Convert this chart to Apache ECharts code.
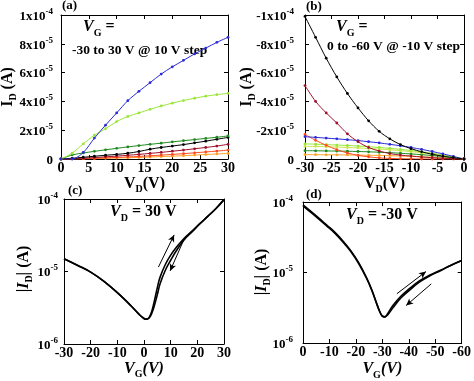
<!DOCTYPE html>
<html><head><meta charset="utf-8">
<script src="https://cdn.jsdelivr.net/npm/echarts@6/dist/echarts.min.js"></script>
<style>html,body{margin:0;padding:0;background:#fff}#c{width:474px;height:381px}</style>
</head><body><div id="c"></div>
<script>
// ---------- DATA ----------
// Panel (a): output curves, V_D in volts, I_D in units of 1e-5 A
const vdA = [0,2,4,6,8,10,12,14,16,18,20,22,24,26,28,30];
const aBlue   = [0,0,0.45,1.45,2.35,3.2,4.05,4.7,5.3,5.9,6.4,6.85,7.3,7.7,8.1,8.45];
const aLime   = [0,0.4,1.05,1.65,2.1,2.6,2.95,3.2,3.45,3.68,3.88,4.06,4.22,4.36,4.47,4.56];
const aGreen  = [0,0.28,0.42,0.53,0.64,0.74,0.84,0.93,1.02,1.1,1.19,1.27,1.35,1.43,1.51,1.6];
const aBlack  = [0,0.05,0.12,0.19,0.26,0.32,0.4,0.52,0.68,0.8,0.9,1.0,1.12,1.24,1.37,1.5];
const aDkRed  = [0,0.02,0.06,0.1,0.15,0.2,0.26,0.32,0.39,0.46,0.54,0.62,0.71,0.8,0.9,1.02];
const aRed    = [0,0.01,0.03,0.05,0.08,0.11,0.14,0.18,0.22,0.27,0.32,0.37,0.43,0.49,0.55,0.62];
const aOrange = [0,0.01,0.02,0.03,0.05,0.07,0.09,0.11,0.14,0.17,0.2,0.23,0.27,0.31,0.35,0.39];

// Panel (b): output curves, V_D in volts, I_D in units of 1e-5 A
const vdB = [-30,-28,-26,-24,-22,-20,-18,-16,-14,-12,-10,-8,-6,-4,-2,0];
const bBlack  = [-9.9,-8.45,-7.0,-5.7,-4.55,-3.55,-2.65,-1.92,-1.4,-1.0,-0.72,-0.5,-0.33,-0.2,-0.09,0];
const bDkRed  = [-5.1,-4.0,-3.2,-2.5,-1.75,-1.2,-0.8,-0.55,-0.38,-0.27,-0.2,-0.14,-0.09,-0.05,-0.02,0];
const bBlue   = [-1.55,-1.5,-1.45,-1.4,-1.34,-1.28,-1.2,-1.12,-1.02,-0.92,-0.8,-0.67,-0.52,-0.36,-0.18,0];
const bRed    = [-1.7,-1.3,-0.95,-0.65,-0.42,-0.25,-0.15,-0.08,-0.04,-0.02,-0.01,0,0,0,0,0];
const bLime   = [-1.05,-1.03,-1.0,-0.97,-0.94,-0.9,-0.85,-0.8,-0.74,-0.67,-0.59,-0.5,-0.4,-0.28,-0.14,0];
const bYellow = [-0.88,-0.87,-0.85,-0.83,-0.8,-0.77,-0.73,-0.69,-0.64,-0.58,-0.51,-0.43,-0.34,-0.24,-0.12,0];
const bGreen  = [-0.58,-0.57,-0.56,-0.55,-0.54,-0.52,-0.5,-0.47,-0.44,-0.4,-0.35,-0.3,-0.24,-0.17,-0.09,0];
const bOrange = [-0.3,-0.3,-0.29,-0.29,-0.28,-0.27,-0.26,-0.25,-0.23,-0.21,-0.19,-0.16,-0.13,-0.09,-0.05,0];

// Panel (c): transfer curve, V_D = 30 V, |I_D| in A
const vgC    = [-30,-25,-20,-15,-10,-5,-2,0,1,2,3,4,5,6,8,10,12,15,18,21,24,27,30];
const cFwd   = [1.5e-5,1.22e-5,9.8e-6,7.3e-6,5.1e-6,3.4e-6,2.6e-6,2.25e-6,2.2e-6,2.35e-6,2.9e-6,4.1e-6,6.0e-6,8.3e-6,1.25e-5,1.68e-5,2.12e-5,2.85e-5,3.6e-5,4.6e-5,5.8e-5,7.4e-5,9.8e-5];
const cBwd   = [1.5e-5,1.22e-5,9.8e-6,7.3e-6,5.1e-6,3.4e-6,2.6e-6,2.25e-6,2.2e-6,2.3e-6,2.7e-6,3.5e-6,4.8e-6,6.7e-6,1.04e-5,1.43e-5,1.9e-5,2.72e-5,3.52e-5,4.55e-5,5.8e-5,7.4e-5,9.8e-5];
const cArrowUp   = [[5.4,1.15e-5],[11.3,3.2e-5]];
const cArrowDown = [[15,2.78e-5],[9.8,1.02e-5]];

// Panel (d): transfer curve, V_D = -30 V, |I_D| in A
const vgD  = [0,-3,-6,-9,-12,-15,-18,-21,-24,-26,-28,-29,-30,-31,-32,-34,-37,-40,-44,-48,-52,-56,-60];
const dFwd = [9.1e-5,7.35e-5,5.9e-5,4.7e-5,3.75e-5,2.82e-5,2.06e-5,1.39e-5,8.5e-6,5.7e-6,3.5e-6,2.8e-6,2.4e-6,2.35e-6,2.6e-6,3.4e-6,4.6e-6,5.8e-6,7.6e-6,9.2e-6,1.08e-5,1.27e-5,1.48e-5];
const dBwd = [8.8e-5,7.1e-5,5.7e-5,4.55e-5,3.62e-5,2.74e-5,2.0e-5,1.35e-5,8.3e-6,5.6e-6,3.5e-6,2.8e-6,2.4e-6,2.35e-6,2.5e-6,3.15e-6,4.35e-6,5.5e-6,7.3e-6,9.0e-6,1.06e-5,1.27e-5,1.48e-5];
const dArrowUp   = [[-35.5,5.0e-6],[-46.5,1.03e-5]];
const dArrowDown = [[-48.5,6.9e-6],[-39,3.4e-6]];

// Tick labels
const abTickVals = [0,2,4,6,8,10];
const aTickMant  = ['0','2x10','4x10','6x10','8x10','1x10'];
const bTickMant  = ['0','-2x10','-4x10','-6x10','-8x10','-1x10'];
const abTickExp  = ['','-5','-5','-5','-5','-4'];

// ---------- CHART ----------
const SERIF = '"Liberation Serif","Times New Roman",serif';
const chart = echarts.init(document.getElementById('c'), null, {renderer:'canvas'});

const rich = {
  n:{fontFamily:SERIF,fontWeight:'bold',fontSize:13,color:'#000',lineHeight:16,verticalAlign:'bottom'},
  s:{fontFamily:SERIF,fontWeight:'bold',fontSize:9,color:'#000',lineHeight:9,verticalAlign:'top'}
};
const nameRich = {
  n:{fontFamily:SERIF,fontWeight:'bold',fontSize:16,color:'#000',lineHeight:19,verticalAlign:'top'},
  i:{fontFamily:SERIF,fontWeight:'bold',fontStyle:'italic',fontSize:16,color:'#000',lineHeight:19,verticalAlign:'top'},
  sub:{fontFamily:SERIF,fontWeight:'bold',fontSize:10,color:'#000',lineHeight:10,verticalAlign:'bottom'}
};

function linAxisLabel(mant){
  return function(v){
    const i = abTickVals.indexOf(Math.round(Math.abs(v)));
    if (i < 0) return '';
    return abTickExp[i] ? '{n|'+mant[i]+'}{s|'+abTickExp[i]+'}' : '{n|'+mant[i]+'}';
  };
}
function logLabel(v){
  const e = Math.round(Math.log10(v));
  return '{n|10}{s|'+e+'}';
}
const tick = {show:true,inside:true,length:4,lineStyle:{color:'#000',width:1}};
const line = {show:true,onZero:false,lineStyle:{color:'#000',width:1}};
const xLab = {fontFamily:SERIF,fontWeight:'bold',fontSize:14,color:'#000',margin:2};

function mirrorX(grid, base){
  return Object.assign({}, base, {gridIndex:grid,position:'top',axisLabel:{show:false},name:'',axisTick:tick,axisLine:line,splitLine:{show:false}});
}
function mirrorY(grid, base){
  return Object.assign({}, base, {gridIndex:grid,position:'right',axisLabel:{show:false},name:'',axisTick:tick,axisLine:line,splitLine:{show:false}});
}

const xA = {type:'value',gridIndex:0,min:0,max:30,interval:5,axisTick:tick,axisLine:line,splitLine:{show:false},
  axisLabel:xLab,name:'{n|V}{sub|D}{n|(V)}',nameLocation:'middle',nameGap:14,nameTextStyle:{rich:nameRich}};
const xB = {type:'value',gridIndex:1,min:-30,max:0,interval:5,axisTick:tick,axisLine:line,splitLine:{show:false},
  axisLabel:xLab,name:'{n|V}{sub|D}{n|(V)}',nameLocation:'middle',nameGap:14,nameTextStyle:{rich:nameRich}};
const xC = {type:'value',gridIndex:2,min:-30,max:30,interval:10,axisTick:tick,axisLine:line,splitLine:{show:false},
  axisLabel:xLab,name:'{i|V}{sub|G}{i|(V)}',nameLocation:'middle',nameGap:15,nameTextStyle:{rich:nameRich}};
const xD = {type:'value',gridIndex:3,min:-60,max:0,interval:10,inverse:true,axisTick:tick,axisLine:line,splitLine:{show:false},
  axisLabel:xLab,name:'{i|V}{sub|G}{i|(V)}',nameLocation:'middle',nameGap:18,nameTextStyle:{rich:nameRich}};

const yA = {type:'value',gridIndex:0,min:0,max:10,interval:2,axisTick:tick,axisLine:line,splitLine:{show:false},
  axisLabel:{formatter:linAxisLabel(aTickMant),rich:rich,margin:8}};
const yB = {type:'value',gridIndex:1,min:-10,max:0,interval:2,inverse:true,axisTick:tick,axisLine:line,splitLine:{show:false},
  axisLabel:{formatter:linAxisLabel(bTickMant),rich:rich,margin:11}};
const yC = {type:'log',logBase:10,gridIndex:2,min:1e-6,max:1e-4,axisTick:tick,axisLine:line,splitLine:{show:false},
  axisLabel:{formatter:logLabel,rich:rich,margin:6}};
const yD = {type:'log',logBase:10,gridIndex:3,min:1e-6,max:1e-4,axisTick:tick,axisLine:line,splitLine:{show:false},
  axisLabel:{formatter:logLabel,rich:rich,margin:10}};

function curve(xs, ys, color, xi, yi){
  return {type:'line',xAxisIndex:xi,yAxisIndex:yi,data:xs.map((x,i)=>[x,ys[i]]),
    showSymbol:true,symbol:'circle',symbolSize:2.8,smooth:0.3,
    lineStyle:{color:color,width:1},itemStyle:{color:color},animation:false,silent:true};
}
function thick(xs, ys, xi, yi, arrows){
  const s = {type:'line',xAxisIndex:xi,yAxisIndex:yi,data:xs.map((x,i)=>[x,ys[i]]),
    showSymbol:false,smooth:0.4,lineStyle:{color:'#000',width:1.6},animation:false,silent:true};
  if (arrows){
    s.markLine = {silent:true,symbol:['none','arrow'],symbolSize:[5,7],label:{show:false},
      lineStyle:{color:'#000',width:1,type:'solid'},animation:false,
      data:arrows.map(a=>[{coord:a[0]},{coord:a[1]}])};
  }
  return s;
}

const C = {blue:'#2b2bd9',lime:'#9be63a',green:'#1f8a1f',black:'#000000',dkred:'#a0102a',red:'#ff4a1f',orange:'#ffa126',yellow:'#c8e84a'};

function T(x,y,text,size){
  return {type:'text',x:x,y:y,style:{text:text,fontFamily:SERIF,fontWeight:'bold',fontSize:size||13,fill:'#000'}};
}
function R(x,y,text){
  return {type:'text',x:x,y:y,style:{text:text,rich:nameRich}};
}
function VR(cx,cy,text){
  return {type:'text',x:cx,y:cy,rotation:Math.PI/2,
    style:{text:text,rich:nameRich,align:'center',verticalAlign:'middle'}};
}

const option = {
  backgroundColor:'#fff',
  animation:false,
  grid:[
    {left:61,top:15,width:167,height:144},
    {left:305,top:15,width:159,height:144},
    {left:64,top:199,width:160,height:145},
    {left:303,top:202,width:160,height:143}
  ],
  xAxis:[xA,xB,xC,xD,mirrorX(0,xA),mirrorX(1,xB),mirrorX(2,xC),mirrorX(3,xD)],
  yAxis:[yA,yB,yC,yD,mirrorY(0,yA),mirrorY(1,yB),mirrorY(2,yC),mirrorY(3,yD)],
  series:[
    curve(vdA,aOrange,C.orange,0,0),
    curve(vdA,aRed,C.red,0,0),
    curve(vdA,aDkRed,C.dkred,0,0),
    curve(vdA,aBlack,C.black,0,0),
    curve(vdA,aGreen,C.green,0,0),
    curve(vdA,aLime,C.lime,0,0),
    curve(vdA,aBlue,C.blue,0,0),
    curve(vdB,bOrange,C.orange,1,1),
    curve(vdB,bGreen,C.green,1,1),
    curve(vdB,bYellow,C.yellow,1,1),
    curve(vdB,bLime,C.lime,1,1),
    curve(vdB,bRed,C.red,1,1),
    curve(vdB,bBlue,C.blue,1,1),
    curve(vdB,bDkRed,C.dkred,1,1),
    curve(vdB,bBlack,C.black,1,1),
    thick(vgC,cFwd,2,2,[cArrowUp,cArrowDown]),
    thick(vgC,cBwd,2,2),
    thick(vgD,dFwd,3,3,[dArrowUp,dArrowDown]),
    thick(vgD,dBwd,3,3)
  ],
  graphic:[
    T(62,-1,'(a)',13),
    T(306,0,'(b)',13),
    T(68,184,'(c)',13),
    T(306,188,'(d)',13),
    VR(9,87,'{n|I}{sub|D}{n| (A)}'),
    VR(248,87,'{n|I}{sub|D}{n| (A)}'),
    VR(25,269,'{n||}{i|I}{sub|D}{n|| (A)}'),
    VR(263,272,'{n||}{i|I}{sub|D}{n|| (A)}'),
    R(83,19,'{i|V}{sub|G}{n| =}'),
    T(72,44,'-30 to 30 V @ 10 V step',13.5),
    R(336,19,'{i|V}{sub|G}{n| =}'),
    T(327,40,'0 to -60 V @ -10 V step',13.5),
    R(110,204,'{i|V}{sub|D}{n| = 30 V}'),
    R(346,207,'{i|V}{sub|D}{n| = -30 V}')
  ]
};
chart.setOption(option);
</script></body></html>
